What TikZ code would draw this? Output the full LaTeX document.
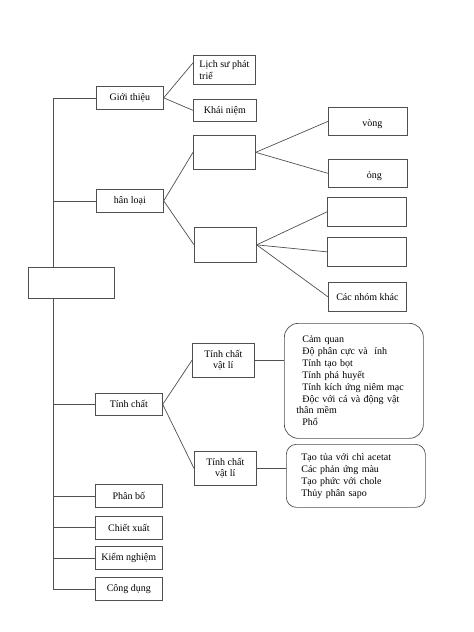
\documentclass[tikz,border=0pt]{standalone}
\usepackage{fontspec}
\setmainfont{Liberation Serif}
\usepackage{tikz}
\usetikzlibrary{backgrounds}
\usetikzlibrary{positioning}
\definecolor{linegray}{RGB}{80,80,80}

\begin{document}
\begin{tikzpicture}[x=1pt, y=-1pt,
    font=\fontsize{10}{11.5}\selectfont,
    box/.style={draw=linegray, fill=white, line width=0.7pt, anchor=north west,
                inner sep=0pt, align=center},
    mainbox/.style={box, minimum width=67pt, minimum height=23pt},
    link/.style={draw=linegray, line width=0.7pt},
    ]
    \useasboundingbox (0,0) rectangle (474,632);
    % Root and first level
    \node[box, minimum width=86pt, minimum height=31pt] (root) at (28,267) {};
    \node[mainbox] (gioithieu) at (96,86) {Giới thiệu};
    \node[mainbox] (phanloai) at (96,189) {hân loại};
    \node[mainbox, minimum height=22pt] (tinhchat) at (95,393) {Tính chất};
    \node[mainbox] (phanbo) at (95,484) {Phân bố};
    \node[mainbox, below=8pt of phanbo] (chietxuat) {Chiết xuất};
    \node[mainbox, below=7pt of chietxuat] (kiemnghiem) {Kiểm nghiệm};
    \node[mainbox, below=7pt of kiemnghiem] (congdung) {Công dụng};
    % Second level
    \node[box, minimum width=62pt, minimum height=29pt, align=left] (lichsu) at (193,55) {Lịch sư phát\\triể};
    \node[box, minimum width=63pt, minimum height=22pt] (khainiem) at (193,99) {Khái niệm};
    \node[box, minimum width=62pt, minimum height=34pt] (pl1) at (193,135) {};
    \node[box, minimum width=62pt, minimum height=35pt] (pl2) at (194,227) {};
    \node[box, minimum width=62pt, minimum height=34pt, font=\fontsize{10}{11}\selectfont] (vl1) at (192,343) {Tính chất\\vật lí};
    \node[box, minimum width=62pt, minimum height=34pt, font=\fontsize{10}{11}\selectfont] (vl2) at (194,451) {Tính chất\\vật lí};
    % Third level
    \node[box, minimum width=79pt, minimum height=28pt] (vong) at (328,107) {\mbox{}\\\hspace*{9pt}vòng};
    \node[box, minimum width=79pt, minimum height=28pt] (ong) at (328,159) {\mbox{}\\\hspace*{13pt}ỏng};
    \node[box, minimum width=79pt, minimum height=29pt] (e3) at (327,197) {};
    \node[box, minimum width=79pt, minimum height=29pt] (e4) at (327,237) {};
    \node[box, minimum width=78pt, minimum height=29pt] (nhomkhac) at (328,282) {Các nhóm khác};
    \node[box, rounded corners=14pt, minimum width=139pt, minimum height=115pt,
          text width=115pt, inner xsep=12pt, align=left,
          font=\fontsize{10}{11.9}\selectfont] (rb1) at (284,323)
        {\hspace*{6pt}Cảm quan\\
         \hspace*{6pt}Độ phân cực và\ \ ính\\
         \hspace*{6pt}Tính tạo bọt\\
         \hspace*{6pt}Tính phá huyết\\
         \hspace*{6pt}Tính kích ứng niêm mạc\\
         \hspace*{6pt}Độc với cá và động vật\\
         thân mềm\\
         \hspace*{6pt}Phổ};
    \node[box, rounded corners=10pt, minimum width=139pt, minimum height=63pt,
          text width=109pt, inner xsep=15pt, align=left,
          font=\fontsize{10}{12}\selectfont] (rb2) at (286,444)
        {Tạo tủa với chì acetat\\
         Các phản ứng màu\\
         Tạo phức với chole\\
         Thủy phân sapo};
    % Connectors
    \begin{scope}[on background layer]
        \coordinate (tx) at (53,0);
        \draw[link] (gioithieu.west) -- (gioithieu.west -| tx) -- (congdung.west -| tx) -- (congdung.west);
        \foreach \n in {phanloai,tinhchat,phanbo,chietxuat,kiemnghiem}
            \draw[link] (\n.west) -- (\n.west -| tx);
        \draw[link] (gioithieu.east) -- ([yshift=7pt]lichsu.west);
        \draw[link] (gioithieu.east) -- (khainiem.west);
        \foreach \n in {pl1,pl2}
            \draw[link] (phanloai.east) -- (\n.west);
        \foreach \n in {vong,ong}
            \draw[link] (pl1.east) -- (\n.west);
        \foreach \n in {e3,e4,nhomkhac}
            \draw[link] (pl2.east) -- (\n.west);
        \foreach \n in {vl1,vl2}
            \draw[link] (tinhchat.east) -- (\n.west);
        \draw[link] (vl1.east) -- (vl1.east -| rb1.west);
        \draw[link] (vl2.east) -- (vl2.east -| rb2.west);
    \end{scope}
\end{tikzpicture}
\end{document}
